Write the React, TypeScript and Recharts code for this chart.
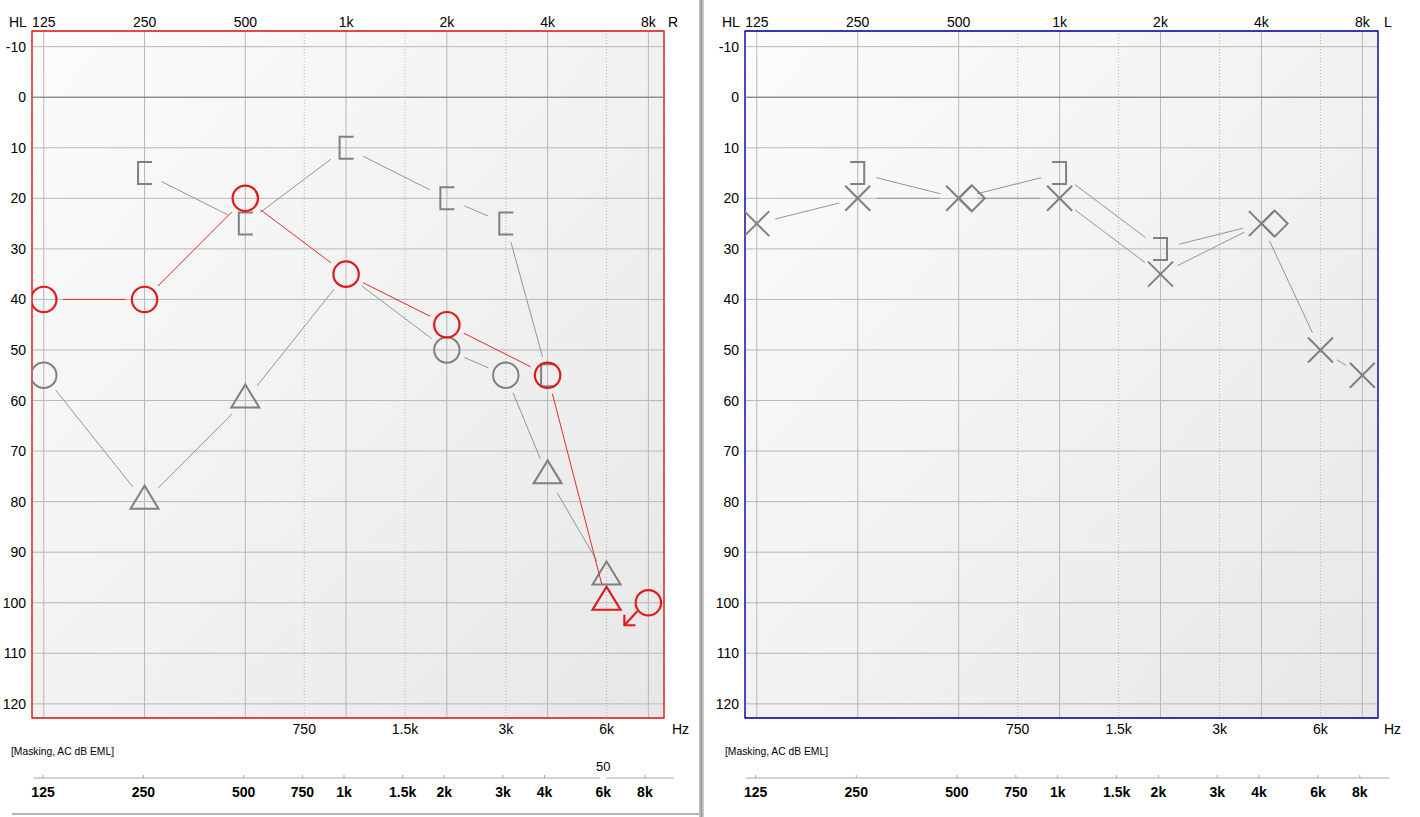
import React from 'react';
import {
  ComposedChart,
  Line,
  XAxis,
  YAxis,
  CartesianGrid,
  ReferenceLine,
  ReferenceArea,
  LabelList,
} from 'recharts';

// ---------- axis data ----------
const topTickFreqs = [125, 250, 500, 1000, 2000, 4000, 8000];
const topTickLabels = ['125', '250', '500', '1k', '2k', '4k', '8k'];
const midTickFreqs = [750, 1500, 3000, 6000];
const midTickLabels = ['750', '1.5k', '3k', '6k'];
const maskTickFreqs = [125, 250, 500, 750, 1000, 1500, 2000, 3000, 4000, 6000, 8000];
const maskTickLabels = ['125', '250', '500', '750', '1k', '1.5k', '2k', '3k', '4k', '6k', '8k'];
const dbTicks = [-10, 0, 10, 20, 30, 40, 50, 60, 70, 80, 90, 100, 110, 120];

// ---------- right ear (left panel) ----------
const rAcFreqs = [125, 250, 500, 1000, 2000, 4000, 6000];
const rAcLevels = [40, 40, 20, 35, 45, 55, 100];
const rAcSymbols = ['O', 'O', 'O', 'O', 'O', 'O', 'T'];

const rNrFreqs = [8000];
const rNrLevels = [100];
const rNrSymbols = ['ONR'];

const rGrayFreqs = [125, 250, 500, 1000, 2000, 3000, 4000, 6000];
const rGrayLevels = [55, 80, 60, 35, 50, 55, 75, 95];
const rGraySymbols = ['O', 'T', 'T', '', 'O', 'O', 'T', 'T'];

const rBcFreqs = [250, 500, 1000, 2000, 3000, 4000];
const rBcLevels = [15, 25, 10, 20, 25, 55];
const rBcSymbols = ['[', '[', '[', '[', '[', '['];

const rMaskFreqs = [6000];
const rMaskValues = [50];

// ---------- left ear (right panel) ----------
const lAcFreqs = [125, 250, 500, 1000, 2000, 4000, 6000, 8000];
const lAcLevels = [25, 20, 20, 20, 35, 25, 50, 55];
const lAcSymbols = ['X', 'X', 'XD', 'X', 'X', 'XD', 'X', 'X'];

const lBcFreqs = [250, 500, 1000, 2000, 4000];
const lBcLevels = [15, 20, 15, 30, 25];
const lBcSymbols = [']', '', ']', ']', ''];

const lMaskFreqs: number[] = [];
const lMaskValues: number[] = [];

// ---------- helpers ----------
const oct = (f: number) => Math.log2(f / 125);
const X_DOMAIN: [number, number] = [-0.117, 6.155];
const Y_DOMAIN: [number, number] = [-13.1, 122.8];
const MASK_DOMAIN: [number, number] = [-0.095, 6.29];
const GAP = 19;

const RED = '#e01b1b';
const RED_LINE = '#e42a2a';
const GRAY = '#808080';
const GRAY_LINE = '#959595';

type Row = { oct: number; db: number; sym: string };
const rows = (f: number[], l: number[], s: string[]): Row[] =>
  f.map((fr, i) => ({ oct: oct(fr), db: l[i], sym: s[i] }));

const fmt = (ticks: number[], labels: string[]) => (v: number) => {
  const i = ticks.findIndex((t) => Math.abs(oct(t) - v) < 1e-6);
  return i >= 0 ? labels[i] : '';
};

function marker(sym: string, cx: number, cy: number, color: string, sw: number) {
  const common = { fill: 'none', stroke: color, strokeWidth: sw };
  switch (sym) {
    case 'O':
      return <circle cx={cx} cy={cy} r={12.7} {...common} />;
    case 'T':
      return (
        <polygon
          points={`${cx},${cy - 16} ${cx + 14},${cy + 7} ${cx - 14},${cy + 7}`}
          {...common}
          strokeLinejoin="miter"
        />
      );
    case '[':
      return (
        <polyline
          points={`${cx + 7.5},${cy - 11} ${cx - 6.5},${cy - 11} ${cx - 6.5},${cy + 11} ${cx + 7.5},${cy + 11}`}
          {...common}
        />
      );
    case ']':
      return (
        <polyline
          points={`${cx - 7.5},${cy - 11} ${cx + 6.5},${cy - 11} ${cx + 6.5},${cy + 11} ${cx - 7.5},${cy + 11}`}
          {...common}
        />
      );
    case 'X':
      return (
        <g>
          <line x1={cx - 12.5} y1={cy - 12.5} x2={cx + 12.5} y2={cy + 12.5} {...common} />
          <line x1={cx - 12.5} y1={cy + 12.5} x2={cx + 12.5} y2={cy - 12.5} {...common} />
        </g>
      );
    case 'XD': {
      const dx = cx + 13.2;
      return (
        <g>
          <line x1={cx - 12.5} y1={cy - 12.5} x2={cx + 12.5} y2={cy + 12.5} {...common} />
          <line x1={cx - 12.5} y1={cy + 12.5} x2={cx + 12.5} y2={cy - 12.5} {...common} />
          <polygon
            points={`${dx - 13},${cy} ${dx},${cy - 13} ${dx + 13},${cy} ${dx},${cy + 13}`}
            {...common}
          />
        </g>
      );
    }
    case 'ONR':
      return (
        <g>
          <circle cx={cx} cy={cy} r={12.7} {...common} />
          <line x1={cx - 11} y1={cy + 8.5} x2={cx - 24} y2={cy + 22.5} {...common} />
          <polyline
            points={`${cx - 24},${cy + 12} ${cx - 24},${cy + 22.5} ${cx - 13},${cy + 22.5}`}
            {...common}
          />
        </g>
      );
    default:
      return null;
  }
}

function makeDot(color: string, lineColor: string, sw: number) {
  return (props: any) => {
    const { cx, cy, index, points, payload } = props;
    const sym = payload?.sym ?? '';
    let seg: React.ReactNode = null;
    const next = points ? points[index + 1] : null;
    if (next && typeof next.x === 'number' && typeof next.y === 'number') {
      const dx = next.x - cx;
      const dy = next.y - cy;
      const d = Math.hypot(dx, dy);
      if (d > 2 * GAP) {
        const ux = dx / d;
        const uy = dy / d;
        seg = (
          <line
            x1={cx + ux * GAP}
            y1={cy + uy * GAP}
            x2={next.x - ux * GAP}
            y2={next.y - uy * GAP}
            stroke={lineColor}
            strokeWidth={1}
          />
        );
      }
    }
    return (
      <g key={`mk-${index}-${cx}`}>
        {seg}
        {marker(sym, cx, cy, color, sw)}
      </g>
    );
  };
}

type SeriesDef = { id: string; data: Row[]; color: string; lineColor: string; sw: number };

function AudioPanel({
  series,
  border,
  marginRight,
  gradId,
}: {
  series: SeriesDef[];
  border: string;
  marginRight: number;
  gradId: string;
}) {
  return (
    <ComposedChart
      width={700}
      height={745}
      margin={{ top: 0, right: marginRight, bottom: 0, left: 0 }}
    >
      <defs>
        <linearGradient id={gradId} x1="0" y1="0" x2="1" y2="1">
          <stop offset="0%" stopColor="#fcfcfc" />
          <stop offset="100%" stopColor="#e7e7e7" />
        </linearGradient>
      </defs>
      <XAxis
        xAxisId="top"
        orientation="top"
        type="number"
        dataKey="oct"
        domain={X_DOMAIN}
        allowDataOverflow
        ticks={topTickFreqs.map(oct)}
        tickFormatter={fmt(topTickFreqs, topTickLabels)}
        interval={0}
        height={31}
        axisLine={false}
        tickLine={false}
        tickSize={0}
        tickMargin={4}
        tick={{ fill: '#000', fontSize: 14 }}
      />
      <XAxis
        xAxisId="bot"
        orientation="bottom"
        type="number"
        dataKey="oct"
        domain={X_DOMAIN}
        allowDataOverflow
        ticks={midTickFreqs.map(oct)}
        tickFormatter={fmt(midTickFreqs, midTickLabels)}
        interval={0}
        height={27}
        axisLine={false}
        tickLine={false}
        tickSize={0}
        tickMargin={6}
        tick={{ fill: '#000', fontSize: 14 }}
      />
      <YAxis
        yAxisId="y"
        type="number"
        domain={Y_DOMAIN}
        allowDataOverflow
        reversed
        ticks={dbTicks}
        interval={0}
        width={32}
        axisLine={false}
        tickLine={false}
        tickSize={0}
        tickMargin={6}
        tick={{ fill: '#000', fontSize: 14 }}
      />
      <CartesianGrid
        xAxisId="top"
        yAxisId="y"
        fill={`url(#${gradId})`}
        stroke="#b8b8b8"
        strokeWidth={1}
      />
      <CartesianGrid
        xAxisId="bot"
        yAxisId="y"
        horizontal={false}
        stroke="#b4b4b4"
        strokeDasharray="1 2"
        fill="none"
      />
      <ReferenceLine xAxisId="top" yAxisId="y" y={0} stroke="#777" strokeWidth={1} />
      <ReferenceArea
        xAxisId="top"
        yAxisId="y"
        x1={X_DOMAIN[0]}
        x2={X_DOMAIN[1]}
        y1={Y_DOMAIN[0]}
        y2={Y_DOMAIN[1]}
        fill="none"
        fillOpacity={0}
        stroke={border}
        strokeWidth={1.3}
      />
      {series.map((s) => (
        <Line
          key={s.id}
          xAxisId="top"
          yAxisId="y"
          data={s.data}
          dataKey="db"
          stroke="none"
          dot={makeDot(s.color, s.lineColor, s.sw)}
          activeDot={false}
          isAnimationActive={false}
        />
      ))}
    </ComposedChart>
  );
}

function MaskStrip({
  freqs,
  values,
  marginLeft,
  marginRight,
}: {
  freqs: number[];
  values: number[];
  marginLeft: number;
  marginRight: number;
}) {
  const data = freqs.map((f, i) => ({ oct: oct(f), y: 0, mask: values[i] }));
  return (
    <ComposedChart
      width={700}
      height={70}
      margin={{ top: 0, right: marginRight, bottom: 0, left: marginLeft }}
    >
      <XAxis
        xAxisId="m"
        type="number"
        dataKey="oct"
        domain={MASK_DOMAIN}
        allowDataOverflow
        ticks={maskTickFreqs.map(oct)}
        tickFormatter={fmt(maskTickFreqs, maskTickLabels)}
        interval={0}
        height={37}
        axisLine={{ stroke: '#a6a6a6' }}
        tickLine={{ stroke: '#a6a6a6' }}
        tickSize={-3}
        tickMargin={12}
        tick={{ fill: '#000', fontSize: 14, fontWeight: 'bold' }}
      />
      <YAxis yAxisId="m" hide domain={[0, 1]} />
      <Line
        xAxisId="m"
        yAxisId="m"
        data={data}
        dataKey="y"
        stroke="none"
        dot={false}
        activeDot={false}
        isAnimationActive={false}
      >
        <LabelList dataKey="mask" position="top" offset={7} fill="#000" fontSize={13} />
      </Line>
    </ComposedChart>
  );
}

export default function App() {
  const leftSeries: SeriesDef[] = [
    { id: 'rbc', data: rows(rBcFreqs, rBcLevels, rBcSymbols), color: GRAY, lineColor: GRAY_LINE, sw: 2 },
    { id: 'rgray', data: rows(rGrayFreqs, rGrayLevels, rGraySymbols), color: GRAY, lineColor: GRAY_LINE, sw: 2 },
    { id: 'rac', data: rows(rAcFreqs, rAcLevels, rAcSymbols), color: RED, lineColor: RED_LINE, sw: 2.2 },
    { id: 'rnr', data: rows(rNrFreqs, rNrLevels, rNrSymbols), color: RED, lineColor: RED_LINE, sw: 2.2 },
  ];
  const rightSeries: SeriesDef[] = [
    { id: 'lbc', data: rows(lBcFreqs, lBcLevels, lBcSymbols), color: GRAY, lineColor: GRAY_LINE, sw: 2 },
    { id: 'lac', data: rows(lAcFreqs, lAcLevels, lAcSymbols), color: GRAY, lineColor: GRAY_LINE, sw: 2 },
  ];
  const txt = { fontSize: 14, fill: '#000' };
  return (
    <div
      style={{
        position: 'absolute',
        left: 0,
        top: 0,
        width: 1420,
        height: 817,
        background: '#fff',
        overflow: 'hidden',
        fontFamily: '"Liberation Sans", Arial, sans-serif',
      }}
    >
      <svg
        width={1420}
        height={817}
        style={{ position: 'absolute', left: 0, top: 0 }}
      >
        <text x={9} y={26.7} {...txt}>HL</text>
        <text x={668} y={26.7} {...txt}>R</text>
        <text x={672} y={734} {...txt}>Hz</text>
        <text x={11} y={755} fontSize={10.3} fill="#000">[Masking, AC dB EML]</text>
        <text x={722} y={26.7} {...txt}>HL</text>
        <text x={1384} y={26.7} {...txt}>L</text>
        <text x={1384} y={734} {...txt}>Hz</text>
        <text x={725} y={755} fontSize={10.3} fill="#000">[Masking, AC dB EML]</text>
      </svg>
      <div style={{ position: 'absolute', left: 12, top: 813, width: 688, height: 2, background: '#b4b4b4' }} />
      <div
        style={{
          position: 'absolute',
          left: 699,
          top: 0,
          width: 5,
          height: 817,
          background: 'linear-gradient(to right, #c4c4c4, #9c9c9c 50%, #d8d8d8)',
        }}
      />
      <div style={{ position: 'absolute', left: 0, top: 0 }}>
        <AudioPanel series={leftSeries} border={RED} marginRight={36} gradId="bgL" />
      </div>
      <div style={{ position: 'absolute', left: 713, top: 0 }}>
        <AudioPanel series={rightSeries} border="#0000aa" marginRight={35} gradId="bgR" />
      </div>
      <div style={{ position: 'absolute', left: 0, top: 745 }}>
        <MaskStrip freqs={rMaskFreqs} values={rMaskValues} marginLeft={33.5} marginRight={26} />
      </div>
      <div style={{ position: 'absolute', left: 713, top: 745 }}>
        <MaskStrip freqs={lMaskFreqs} values={lMaskValues} marginLeft={33} marginRight={24} />
      </div>
    </div>
  );
}
